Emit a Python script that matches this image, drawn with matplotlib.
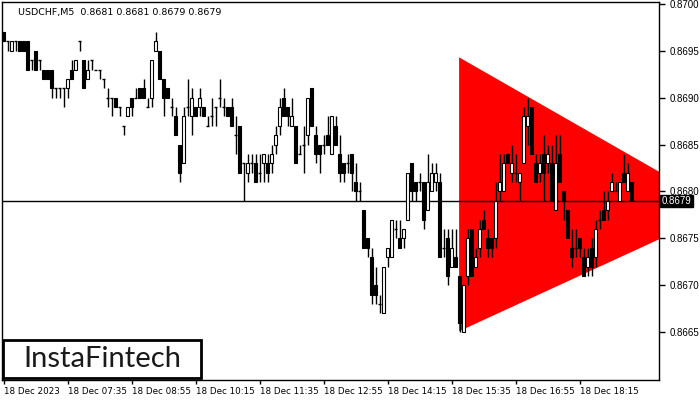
import matplotlib
matplotlib.use("Agg")
import matplotlib.pyplot as plt
import matplotlib.transforms as mtransforms
from matplotlib.patches import Polygon, Rectangle

# chart header
symbol = "USDCHF,M5"
last_ohlc = ["0.8681", "0.8681", "0.8679", "0.8679"]

# 5 minute candles, oldest first
opens = [
    .8697, .8696, .8695, .8696, .8696, .8696, .8696, .8694, .8695, .8694,
    .8693, .8693, .8693, .8691, .8691, .8691, .8691, .8693, .8693, .8696,
    .8694, .8692, .8694, .8693, .8693, .8692, .8690, .8690, .8690, .8689,
    .8687, .8688, .8690, .8690, .8691, .8691, .8689, .8690, .8695, .8695,
    .8692, .8691, .8689, .8688, .8685, .8683, .8689, .8688, .8689, .8689,
    .8689, .8687, .8688, .8689, .8690, .8689, .8689, .8689, .8686, .8687,
    .8683, .8682, .8683, .8683, .8682, .8683, .8683, .8683, .8685, .8687,
    .8690, .8689, .8687, .8687, .8684, .8685, .8686, .8691, .8686, .8685,
    .8685, .8686, .8684, .8687, .8684, .8683, .8683, .8684, .8681, .8680,
    .8678, .8675, .8673, .8670, .8668, .8667, .8673, .8673, .8676, .8675,
    .8675, .8677, .8683, .8681, .8681, .8681, .8678, .8680, .8681, .8681,
    .8674, .8675, .8672, .8673, .8671, .8665, .8671, .8676, .8672, .8674,
    .8677, .8675, .8675, .8675, .8680, .8680, .8684, .8682, .8682, .8681,
    .8683, .8687, .8689, .8683, .8682, .8684, .8683, .8683, .8678, .8684,
    .8680, .8678, .8674, .8674, .8675, .8673, .8672, .8674, .8673, .8677,
    .8678, .8678, .8680, .8680, .8679, .8682, .8680, .8681,
]
highs = [
    .8697, .8696, .8696, .8696, .8696, .8696, .8696, .8694, .8695, .8694,
    .8693, .8693, .8693, .8691, .8691, .8691, .8692, .8694, .8694, .8696,
    .8694, .8694, .8694, .8693, .8693, .8692, .8691, .8690, .8690, .8689,
    .8687, .8689, .8690, .8691, .8691, .8692, .8690, .8694, .8697, .8695,
    .8692, .8691, .8690, .8689, .8685, .8689, .8692, .8691, .8689, .8691,
    .8689, .8688, .8690, .8689, .8692, .8690, .8689, .8690, .8688, .8687,
    .8683, .8684, .8684, .8684, .8684, .8684, .8684, .8685, .8687, .8690,
    .8691, .8689, .8690, .8687, .8685, .8687, .8690, .8691, .8687, .8685,
    .8686, .8688, .8688, .8688, .8686, .8683, .8684, .8684, .8683, .8681,
    .8678, .8675, .8674, .8672, .8669, .8672, .8674, .8677, .8677, .8677,
    .8676, .8682, .8683, .8681, .8682, .8681, .8684, .8683, .8683, .8682,
    .8676, .8676, .8676, .8676, .8671, .8670, .8676, .8676, .8674, .8677,
    .8678, .8676, .8675, .8681, .8684, .8684, .8684, .8685, .8684, .8682,
    .8689, .8690, .8689, .8684, .8684, .8686, .8685, .8685, .8686, .8686,
    .8680, .8678, .8676, .8676, .8675, .8674, .8674, .8675, .8677, .8678,
    .8680, .8680, .8682, .8681, .8681, .8684, .8683, .8681,
]
lows = [
    .8696, .8695, .8695, .8695, .8695, .8695, .8693, .8693, .8693, .8693,
    .8692, .8692, .8690, .8690, .8690, .8689, .8690, .8692, .8693, .8695,
    .8691, .8692, .8693, .8693, .8692, .8691, .8689, .8688, .8689, .8688,
    .8686, .8688, .8688, .8690, .8690, .8690, .8689, .8689, .8695, .8692,
    .8688, .8690, .8688, .8686, .8681, .8683, .8688, .8686, .8688, .8688,
    .8688, .8687, .8687, .8687, .8689, .8688, .8688, .8687, .8684, .8682,
    .8679, .8681, .8682, .8681, .8681, .8681, .8681, .8682, .8684, .8686,
    .8688, .8687, .8687, .8683, .8684, .8682, .8685, .8687, .8683, .8682,
    .8684, .8685, .8684, .8685, .8681, .8681, .8682, .8680, .8679, .8679,
    .8674, .8673, .8668, .8668, .8667, .8667, .8672, .8673, .8675, .8674,
    .8674, .8677, .8679, .8679, .8680, .8676, .8678, .8680, .8680, .8673,
    .8673, .8670, .8672, .8672, .8665, .8665, .8670, .8671, .8672, .8673,
    .8676, .8673, .8673, .8674, .8679, .8680, .8683, .8681, .8681, .8679,
    .8683, .8685, .8684, .8681, .8681, .8679, .8682, .8679, .8678, .8681,
    .8677, .8675, .8672, .8673, .8673, .8671, .8671, .8671, .8672, .8676,
    .8677, .8677, .8680, .8680, .8679, .8681, .8680, .8679,
]
closes = [
    .8696, .8696, .8696, .8696, .8695, .8695, .8693, .8694, .8693, .8694,
    .8692, .8692, .8691, .8691, .8691, .8691, .8692, .8692, .8694, .8696,
    .8691, .8693, .8694, .8693, .8693, .8692, .8690, .8690, .8689, .8689,
    .8687, .8689, .8689, .8690, .8690, .8690, .8689, .8694, .8696, .8692,
    .8690, .8690, .8689, .8686, .8682, .8688, .8689, .8690, .8688, .8690,
    .8688, .8687, .8688, .8689, .8690, .8689, .8688, .8687, .8686, .8682,
    .8683, .8683, .8683, .8681, .8682, .8684, .8682, .8684, .8686, .8689,
    .8688, .8688, .8688, .8683, .8684, .8685, .8690, .8687, .8684, .8684,
    .8685, .8685, .8688, .8685, .8682, .8682, .8683, .8682, .8680, .8680,
    .8674, .8674, .8669, .8669, .8668, .8672, .8674, .8677, .8676, .8674,
    .8676, .8682, .8680, .8680, .8681, .8677, .8681, .8682, .8682, .8673,
    .8674, .8671, .8674, .8672, .8666, .8670, .8675, .8671, .8673, .8676,
    .8676, .8674, .8674, .8679, .8681, .8683, .8683, .8683, .8682, .8682,
    .8688, .8688, .8684, .8681, .8683, .8682, .8684, .8679, .8683, .8681,
    .8679, .8675, .8673, .8674, .8674, .8671, .8673, .8672, .8676, .8677,
    .8677, .8679, .8681, .8680, .8681, .8681, .8682, .8679,
]

time_labels = ["18 Dec 2023", "18 Dec 07:35", "18 Dec 08:55", "18 Dec 10:15",
               "18 Dec 11:35", "18 Dec 12:55", "18 Dec 14:15", "18 Dec 15:35",
               "18 Dec 16:55", "18 Dec 18:15"]
bars_per_label = 16

price_ticks = [0.8665, 0.8670, 0.8675, 0.8680, 0.8685, 0.8690, 0.8695, 0.8700]
bid = 0.8679

# symmetrical triangle: bar index and the upper/lower line prices there
tri_bars = [113.9, 163.9]
tri_upper = [0.86943, 0.86821]
tri_lower = [0.86651, 0.86749]

fig = plt.figure(figsize=(7, 4), dpi=100)
ax = fig.add_axes([2 / 700, 20 / 400, 657 / 700, 378 / 400])
ax.set_xlim(-0.375, 163.875)
ax.set_ylim(0.86599, 0.87002)

# triangle, extended to its apex (clipped by the axes)
su = (tri_upper[1] - tri_upper[0]) / (tri_bars[1] - tri_bars[0])
sl = (tri_lower[1] - tri_lower[0]) / (tri_bars[1] - tri_bars[0])
apex_x = tri_bars[0] + (tri_lower[0] - tri_upper[0]) / (su - sl)
apex_y = tri_upper[0] + su * (apex_x - tri_bars[0])
ax.add_patch(Polygon([(tri_bars[0], tri_upper[0]), (apex_x, apex_y),
                      (tri_bars[0], tri_lower[0])],
                     closed=True, facecolor="#ff0000", edgecolor="none", zorder=1))

ax.axhline(bid, color="black", lw=1, zorder=2)

# candles
w = 0.7
for i, (o, h, l, c) in enumerate(zip(opens, highs, lows, closes)):
    ax.vlines(i, l, h, color="black", lw=1, zorder=3)
    if abs(c - o) < 1e-7:
        ax.hlines(o, i - w / 2, i + w / 2, color="black", lw=1, zorder=4)
    else:
        face = "white" if c > o else "black"
        ax.add_patch(Rectangle((i - w / 2, min(o, c)), w, abs(c - o),
                               facecolor=face, edgecolor="black", lw=0.8, zorder=4))

# axes look
for s in ax.spines.values():
    s.set_color("black")
    s.set_linewidth(1)
ax.yaxis.tick_right()
ax.set_yticks(price_ticks)
ax.set_yticklabels([f"{p:.4f}" for p in price_ticks], family="Liberation Sans")
ax.tick_params(axis="y", direction="out", length=4, width=1, pad=4,
               labelsize=7, colors="black")
ax.set_xticks([k * bars_per_label for k in range(len(time_labels))])
ax.set_xticklabels(time_labels, ha="left")
ax.tick_params(axis="x", direction="out", length=3, width=1, pad=2, labelsize=6.3)

# header text
ax.text(0.024, 0.985, f"{symbol}  " + " ".join(last_ohlc),
        transform=ax.transAxes, ha="left", va="top", fontsize=6.8, color="black")

# current price label on the scale
trans = mtransforms.blended_transform_factory(ax.transAxes, ax.transData)
ax.text(1.004, bid, f"{bid:.4f}", transform=trans, ha="left", va="center",
        fontsize=7, family="Liberation Sans", color="white", zorder=10,
        clip_on=False,
        bbox=dict(boxstyle="square,pad=0.12", facecolor="black", edgecolor="black"))

# logo box
fig.patches.append(Rectangle((3 / 700, 22 / 400), 198 / 700, 38 / 400,
                             transform=fig.transFigure, facecolor="white",
                             edgecolor="black", lw=2, zorder=20))
fig.text(102 / 700, 41 / 400, "InstaFintech", ha="center", va="center",
         fontsize=21, family="Lato", color="#1a1a1a", zorder=21)

fig.savefig("out.png", dpi=100)
